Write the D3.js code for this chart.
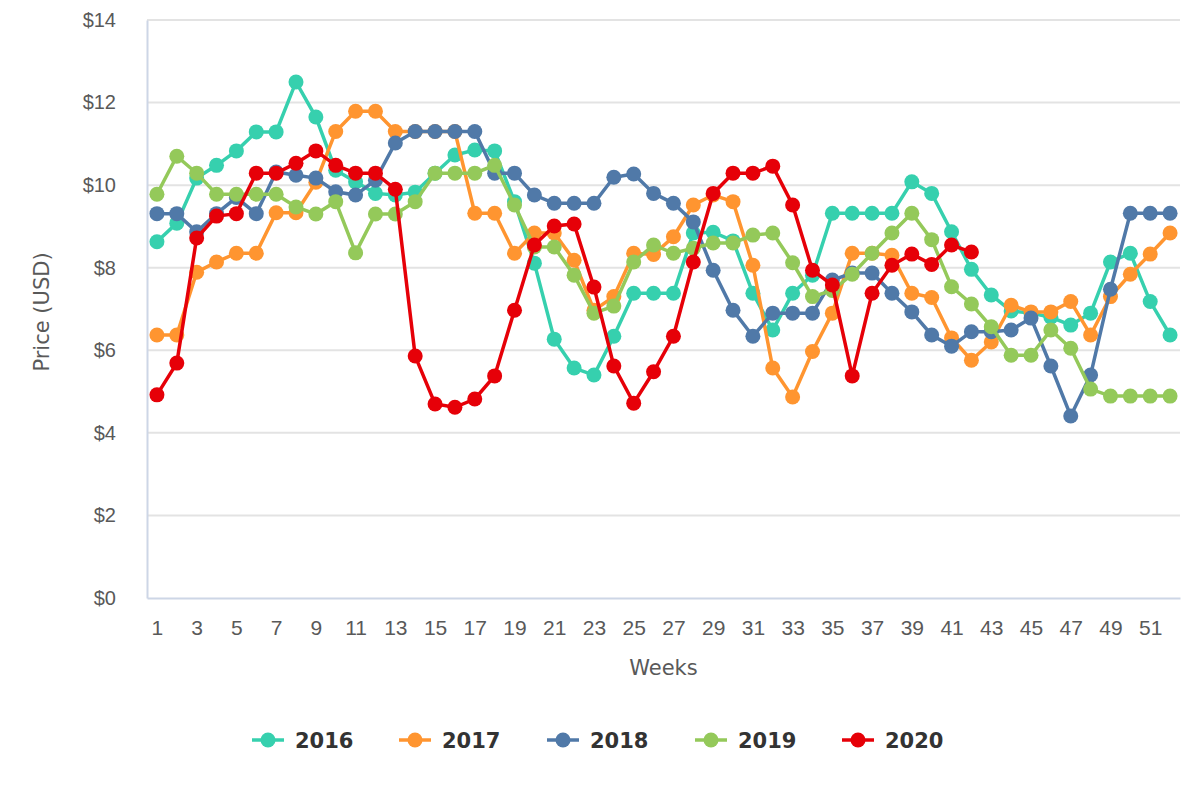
<!DOCTYPE html>
<html>
<head>
<meta charset="utf-8">
<script src="https://cdn.jsdelivr.net/npm/d3@7"></script>
<style>
  body { margin: 0; background: #fff; }
  svg { font-family: "DejaVu Sans", sans-serif; }
</style>
</head>
<body>
<svg id="chart" width="1200" height="800"></svg>
<script>
// weeks 1..52
const weeks = d3.range(1, 53);
const years = ['2016', '2017', '2018', '2019', '2020'];
const colors = ['#36d0ae', '#ff9530', '#5079a8', '#94c95a', '#e60008'];

const price2016 = [8.63, 9.08, 10.17, 10.48, 10.83, 11.29, 11.29, 12.5, 11.65, 10.36,
  10.08, 9.8, 9.76, 9.83, 10.29, 10.73, 10.85, 10.83, 9.6, 8.11,
  6.27, 5.57, 5.4, 6.34, 7.38, 7.38, 7.38, 8.84, 8.86, 8.65,
  7.38, 6.49, 7.38, 7.82, 9.32, 9.32, 9.32, 9.32, 10.08, 9.8,
  8.87, 7.96, 7.34, 6.95, 6.9, 6.8, 6.61, 6.9, 8.14, 8.35,
  7.18, 6.37];
const price2017 = [6.37, 6.37, 7.89, 8.14, 8.35, 8.35, 9.33, 9.33, 10.07, 11.3,
  11.79, 11.79, 11.3, 11.3, 11.3, 11.3, 9.32, 9.32, 8.35, 8.84,
  8.84, 8.18, 6.97, 7.3, 8.35, 8.32, 8.75, 9.52, 9.76, 9.6,
  8.06, 5.57, 4.87, 5.97, 6.9, 8.35, 8.35, 8.3, 7.38, 7.28,
  6.3, 5.76, 6.2, 7.09, 6.93, 6.93, 7.18, 6.37, 7.3, 7.84,
  8.33, 8.84];
const price2018 = [9.31, 9.31, 8.87, 9.31, 9.7, 9.31, 10.32, 10.24, 10.17, 9.84,
  9.76, 10.12, 11.02, 11.3, 11.3, 11.3, 11.3, 10.29, 10.29, 9.76,
  9.56, 9.56, 9.56, 10.19, 10.27, 9.8, 9.56, 9.11, 7.94, 6.97,
  6.34, 6.9, 6.9, 6.9, 7.7, 7.87, 7.87, 7.38, 6.93, 6.37,
  6.1, 6.45, 6.45, 6.49, 6.78, 5.62, 4.41, 5.4, 7.48, 9.32,
  9.32, 9.32];
const price2019 = [9.78, 10.7, 10.29, 9.78, 9.78, 9.78, 9.78, 9.47, 9.3, 9.6,
  8.36, 9.3, 9.3, 9.6, 10.29, 10.29, 10.29, 10.48, 9.52, 8.5,
  8.5, 7.82, 6.9, 7.07, 8.14, 8.55, 8.35, 8.47, 8.6, 8.6,
  8.79, 8.84, 8.12, 7.3, 7.45, 7.84, 8.35, 8.84, 9.32, 8.68,
  7.54, 7.12, 6.57, 5.88, 5.88, 6.49, 6.05, 5.06, 4.89, 4.89,
  4.89, 4.89];
const price2020 = [4.92, 5.69, 8.72, 9.25, 9.31, 10.29, 10.29, 10.53, 10.83, 10.48,
  10.29, 10.29, 9.9, 5.86, 4.7, 4.62, 4.82, 5.38, 6.97, 8.55,
  9.01, 9.06, 7.53, 5.62, 4.72, 5.48, 6.34, 8.14, 9.8, 10.29,
  10.29, 10.46, 9.52, 7.94, 7.58, 5.38, 7.38, 8.06, 8.33, 8.08,
  8.55, 8.38];

const yTicks = [0, 2, 4, 6, 8, 10, 12, 14];
const xTickWeeks = weeks.filter(w => w % 2 === 1);

const series = [price2016, price2017, price2018, price2019, price2020];

const svg = d3.select('#chart');
const plotLeft = 147, plotRight = 1180, plotTop = 20, plotBottom = 598;

const x = d3.scalePoint()
    .domain(weeks)
    .range([plotLeft, plotRight])
    .padding(0.5);

const y = d3.scaleLinear()
    .domain([0, 14])
    .range([plotBottom, plotTop]);

// gridlines
svg.append('g')
    .selectAll('line')
    .data(yTicks.filter(t => t > 0))
    .enter()
    .append('line')
    .attr('x1', plotLeft)
    .attr('x2', plotRight)
    .attr('y1', d => y(d))
    .attr('y2', d => y(d))
    .attr('stroke', '#e3e3e3')
    .attr('stroke-width', 2);

// y axis
let yAxis = svg.append('g')
    .attr('transform', `translate(${plotLeft},0)`)
    .call(d3.axisLeft(y).tickValues(yTicks).tickSize(0).tickPadding(31)
        .tickFormat(d => '$' + d));
yAxis.select('.domain').attr('stroke', '#cdd6e6').attr('stroke-width', 2);
yAxis.selectAll('text')
    .attr('fill', '#595959')
    .style('font-size', '20px');

// x axis
let xAxis = svg.append('g')
    .attr('transform', `translate(0,${plotBottom})`)
    .call(d3.axisBottom(x).tickValues(xTickWeeks).tickSize(0).tickPadding(22));
xAxis.select('.domain').attr('stroke', '#cdd6e6').attr('stroke-width', 2);
xAxis.selectAll('text')
    .attr('fill', '#595959')
    .style('font-size', '21px');

// axis titles
svg.append('text')
    .attr('x', (plotLeft + plotRight) / 2)
    .attr('y', 675)
    .attr('text-anchor', 'middle')
    .attr('fill', '#595959')
    .style('font-size', '21px')
    .text('Weeks');

svg.append('text')
    .attr('transform', `translate(49,${(plotTop + plotBottom) / 2 + 3}) rotate(-90)`)
    .attr('text-anchor', 'middle')
    .attr('fill', '#595959')
    .style('font-size', '21px')
    .text('Price (USD)');

// lines and markers
const line = d3.line()
    .x((d, i) => x(weeks[i]))
    .y(d => y(d));

series.forEach(function(vals, k) {
    let g = svg.append('g');
    g.append('path')
        .datum(vals)
        .attr('d', line)
        .attr('fill', 'none')
        .attr('stroke', colors[k])
        .attr('stroke-width', 3.5);
    g.selectAll('circle')
        .data(vals)
        .enter()
        .append('circle')
        .attr('cx', (d, i) => x(weeks[i]))
        .attr('cy', d => y(d))
        .attr('r', 7.5)
        .attr('fill', colors[k]);
});

// legend
const legendX = [268, 415, 563, 711, 858];
let legend = svg.append('g')
    .selectAll('g')
    .data(years)
    .enter()
    .append('g')
    .attr('transform', (d, i) => `translate(${legendX[i]},740)`);
legend.append('line')
    .attr('x1', -16).attr('x2', 16)
    .attr('stroke', (d, i) => colors[i])
    .attr('stroke-width', 3.5);
legend.append('circle')
    .attr('r', 7.5)
    .attr('fill', (d, i) => colors[i]);
legend.append('text')
    .attr('x', 27)
    .attr('dy', '0.36em')
    .attr('fill', '#333')
    .style('font-size', '21px')
    .style('font-weight', 'bold')
    .text(d => d);
</script>
</body>
</html>
